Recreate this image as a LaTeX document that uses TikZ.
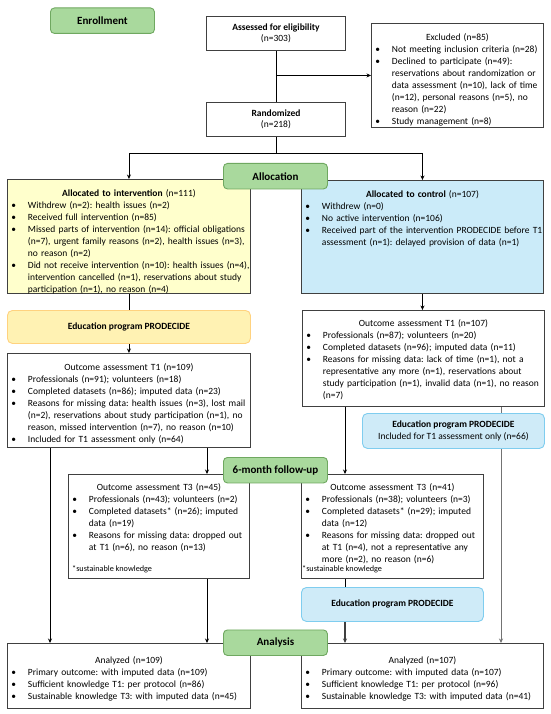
\documentclass[tikz,border=0pt]{standalone}
\usepackage{fontspec}
\setmainfont{Carlito}
\usetikzlibrary{arrows.meta}
\pgfdeclarelayer{background}
\pgfsetlayers{background,main}
\definecolor{gfill}{HTML}{A9D99D}
\definecolor{gdraw}{HTML}{6FA860}
\definecolor{yfill}{HTML}{FFFFCC}
\definecolor{ofill}{HTML}{FFF2B3}
\definecolor{odraw}{HTML}{FFD27F}
\definecolor{bfill}{HTML}{CBEBF9}
\definecolor{pbfill}{HTML}{CFEBF8}
\definecolor{pbdraw}{HTML}{7FCDEF}
\definecolor{bord}{HTML}{404040}
\frenchspacing
\newcommand\bi[1]{\par\noindent\makebox[16.5pt][l]{\textbullet}\mbox{#1}}
\newcommand\cl[1]{\par\noindent\hspace*{16.5pt}\mbox{#1}}
\newcommand\ttl[1]{\par{\centering #1\par}}
\tikzset{
  box/.style={draw=bord, line width=0.9pt, fill=white, inner sep=0pt, anchor=north west},
  txt/.style={inner sep=0pt, anchor=north, font=\fontsize{9.5}{12}\selectfont\frenchspacing, align=left},
  ctxt/.style={inner sep=0pt, font=\fontsize{9.5}{11.7}\selectfont, align=center},
  phase/.style={draw=gdraw, line width=0.9pt, fill=gfill, rounded corners=4pt, minimum width=104pt, minimum height=25.5pt, inner sep=0pt, anchor=north west, font=\fontsize{11}{13}\selectfont\bfseries},
  progo/.style={draw=odraw, line width=0.9pt, fill=ofill, rounded corners=5pt, inner sep=0pt, anchor=north west, font=\fontsize{9.5}{12}\selectfont, align=center},
  progb/.style={draw=pbdraw, line width=0.9pt, fill=pbfill, rounded corners=5pt, inner sep=0pt, anchor=north west, font=\fontsize{9.5}{12}\selectfont, align=center},
  conn/.style={draw=black, line width=0.8pt},
  arr/.style={conn, -{Stealth[length=4.5pt,width=4pt]}},
  foot/.style={inner sep=0pt, anchor=west, font=\fontsize{8.2}{10}\selectfont}
}
\begin{document}
\begin{tikzpicture}[x=1pt,y=-1pt]
\begin{pgfonlayer}{background}
\fill[white] (0,0) rectangle (550,714);
\end{pgfonlayer}
\useasboundingbox (0,0) rectangle (550,714);

% enrollment part
\node[box, minimum width=139pt, minimum height=34pt, ctxt] (assess) at (206,16) {\textbf{Assessed for eligibility}\\(n=303)};
\node[box, minimum width=139pt, minimum height=34pt, ctxt] (rand) at (206,102) {\textbf{Randomized}\\(n=218)};
\node[box, minimum width=172pt, minimum height=104pt] (excl) at (371,23) {};
\node[txt, text width=164pt] (excl-t) at ([yshift=-5pt]excl.north) {%
\ttl{Excluded (n=85)}%
\bi{Not meeting inclusion criteria (n=28)}%
\bi{Declined to participate (n=49):}%
\cl{reservations about randomization or}%
\cl{data assessment (n=10), lack of time}%
\cl{(n=12), personal reasons (n=5), no}%
\cl{reason (n=22)}%
\bi{Study management (n=8)}};

% allocation
\node[box, fill=yfill, minimum width=243pt, minimum height=114pt] (ainter) at (7,179) {};
\node[txt, text width=235pt] (ainter-t) at ([yshift=-5pt]ainter.north) {%
\ttl{\textbf{Allocated to intervention} (n=111)}%
\bi{Withdrew (n=2): health issues (n=2)}%
\bi{Received full intervention (n=85)}%
\bi{Missed parts of intervention (n=14): official obligations}%
\cl{(n=7), urgent family reasons (n=2), health issues (n=3),}%
\cl{no reason (n=2)}%
\bi{Did not receive intervention (n=10): health issues (n=4),}%
\cl{intervention cancelled (n=1), reservations about study}%
\cl{participation (n=1), no reason (n=4)}};

\node[box, fill=bfill, minimum width=242pt, minimum height=113pt] (actrl) at (301,180) {};
\node[txt, text width=234pt] (actrl-t) at ([yshift=-5pt]actrl.north) {%
\ttl{\textbf{Allocated to control} (n=107)}%
\bi{Withdrew (n=0)}%
\bi{No active intervention (n=106)}%
\bi{Received part of the intervention PRODECIDE before T1}%
\cl{assessment (n=1): delayed provision of data (n=1)}};

\node[progo, minimum width=243pt, minimum height=33pt] (edu1) at (7,310) {\textbf{Education program PRODECIDE}};

% T1
\node[box, minimum width=243pt, minimum height=94pt] (t1l) at (7,353) {};
\node[txt, text width=235pt] (t1l-t) at ([yshift=-5pt]t1l.north) {%
\ttl{Outcome assessment T1 (n=109)}%
\bi{Professionals (n=91); volunteers (n=18)}%
\bi{Completed datasets (n=86); imputed data (n=23)}%
\bi{Reasons for missing data: health issues (n=3), lost mail}%
\cl{(n=2), reservations about study participation (n=1), no}%
\cl{reason, missed intervention (n=7), no reason (n=10)}%
\bi{Included for T1 assessment only (n=64)}};

\node[box, minimum width=242pt, minimum height=96pt] (t1r) at (302,310) {};
\node[txt, text width=234pt] (t1r-t) at ([yshift=-4.5pt]t1r.north) {%
\ttl{Outcome assessment T1 (n=107)}%
\bi{Professionals (n=87); volunteers (n=20)}%
\bi{Completed datasets (n=96); imputed data (n=11)}%
\bi{Reasons for missing data: lack of time (n=1), not a}%
\cl{representative any more (n=1), reservations about}%
\cl{study participation (n=1), invalid data (n=1), no reason}%
\cl{(n=7)}};

\node[progb, minimum width=182pt, minimum height=35pt] (edu2) at (362,413) {\textbf{Education program PRODECIDE}\\Included for T1 assessment only (n=66)};

% T3
\node[box, minimum width=181pt, minimum height=104pt] (t3l) at (68,474) {};
\node[txt, text width=173pt] (t3l-t) at ([yshift=-4.5pt]t3l.north) {%
\ttl{Outcome assessment T3 (n=45)}%
\bi{Professionals (n=43); volunteers (n=2)}%
\bi{Completed datasets* (n=26); imputed}%
\cl{data (n=19)}%
\bi{Reasons for missing data: dropped out}%
\cl{at T1 (n=6), no reason (n=13)}};
\node[foot] (t3l-f) at (72,569) {*sustainable knowledge};

\node[box, minimum width=182pt, minimum height=104pt] (t3r) at (301,474) {};
\node[txt, text width=174pt] (t3r-t) at ([yshift=-4.5pt]t3r.north) {%
\ttl{Outcome assessment T3 (n=41)}%
\bi{Professionals (n=38); volunteers (n=3)}%
\bi{Completed datasets* (n=29); imputed}%
\cl{data (n=12)}%
\bi{Reasons for missing data: dropped out}%
\cl{at T1 (n=4), not a representative any}%
\cl{more (n=2), no reason (n=6)}};
\node[foot] (t3r-f) at (302,569) {*sustainable knowledge};

\node[progb, minimum width=182pt, minimum height=34pt] (edu3) at (301,587) {\textbf{Education program PRODECIDE}};

% Analyzed
\node[box, minimum width=243pt, minimum height=65pt] (anl) at (7,643) {};
\node[txt, text width=235pt] (anl-t) at ([yshift=-8pt]anl.north) {%
\ttl{Analyzed (n=109)}%
\bi{Primary outcome: with imputed data (n=109)}%
\bi{Sufficient knowledge T1: per protocol (n=86)}%
\bi{Sustainable knowledge T3: with imputed data (n=45)}};

\node[box, minimum width=242pt, minimum height=65pt] (anr) at (301,643) {};
\node[txt, text width=234pt] (anr-t) at ([yshift=-8pt]anr.north) {%
\ttl{Analyzed (n=107)}%
\bi{Primary outcome: with imputed data (n=107)}%
\bi{Sufficient knowledge T1: per protocol (n=96)}%
\bi{Sustainable knowledge T3: with imputed data (n=41)}};

% phase labels
\node[phase] (enroll) at (50,7.5) {Enrollment};
\node[phase] (alloc) at (223,163) {Allocation};
\node[phase] (follow) at (223,457) {6-month follow-up};
\node[phase] (analysis) at (223,629.5) {Analysis};

% connectors
\begin{pgfonlayer}{background}
\draw[conn] (assess.south) -- (rand.north);
\coordinate (exj) at (assess.south |- excl.west);
\draw[arr] (exj) -- (excl.west);
\coordinate (rj) at ([yshift=-17pt]rand.south);
\draw[conn] (rand.south) -- (rj);
\draw[arr] (rj) -| (ainter.north);
\draw[arr] (rj) -| (actrl.north);
\draw[conn] (ainter.south) -- (edu1.north);
\draw[arr] (edu1.south) -- (t1l.north);
\draw[arr] (actrl.south) -- (actrl.south |- t1r.north);
\coordinate (t1la) at ([xshift=43pt]t1l.south west);
\coordinate (t1lb) at ([xshift=200pt]t1l.south west);
\draw[arr] (t1la) -- (t1la |- anl.north);
\draw[arr] (t1lb) -- (t1lb |- t3l.north);
\draw[arr] (t1lb |- t3l.south) -- (t1lb |- anl.north);
\coordinate (t1ra) at ([xshift=43pt]t1r.south west);
\coordinate (t1rb) at ([xshift=199pt]t1r.south west);
\draw[arr] (t1ra) -- (t1ra |- t3r.north);
\draw[conn] (t1ra |- t3r.south) -- (t1ra |- edu3.north);
\draw[arr, draw=bord, line width=1.6pt] (t1ra |- edu3.south) -- (t1ra |- anr.north);
\draw[arr, draw=black!55, line width=0.6pt] (t1rb) -- (t1rb |- anr.north);
\end{pgfonlayer}
\end{tikzpicture}
\end{document}
